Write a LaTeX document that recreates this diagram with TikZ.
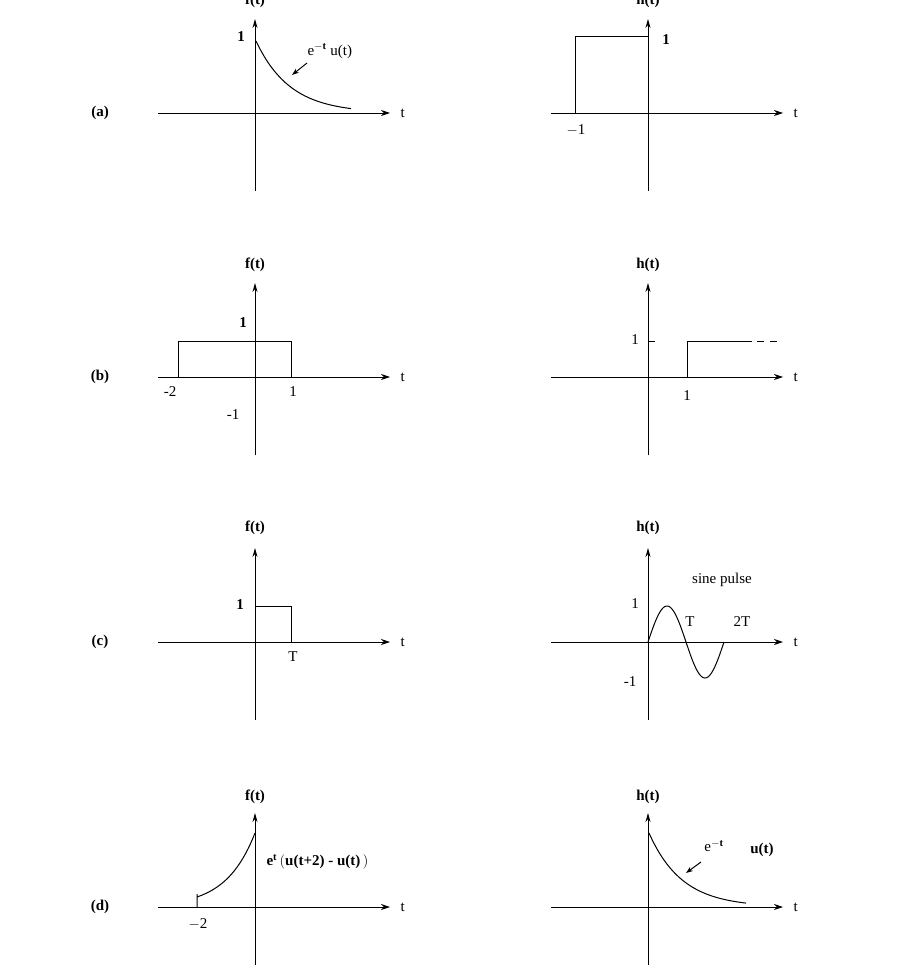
\documentclass[tikz,border=0pt]{standalone}
\usepackage{fontspec}
\setmainfont{Liberation Serif}
\usetikzlibrary{arrows.meta}
\begin{document}
\begin{tikzpicture}[x=1pt,y=-1pt,
  ax/.style={line width=0.9pt,-{Stealth[length=9pt,width=6pt]}},
  vax/.style={line width=0.9pt,-{Stealth[length=9pt,width=5pt]}},
  sig/.style={line width=1pt},
  lbl/.style={font=\fontsize{15}{16}\selectfont},
  small/.style={-{Stealth[length=7pt,width=5pt]},line width=1pt}]
\useasboundingbox (0,0) rectangle (921,965);
\foreach \ox/\oy/\n in {255/113/a,648/113/b,255/377/c,648/377/d,255/642/e,648/642/f,255/907/g,648/907/h}{
  \coordinate (L\n) at (\ox-97,\oy);
  \coordinate (R\n) at (\ox+135,\oy);
  \coordinate (B\n) at (\ox,\oy+78);
  \coordinate (T\n) at (\ox,\oy-94);
  \draw[ax] (L\n) -- (R\n);
  \draw[vax] (B\n) -- (T\n);
  \node[lbl,anchor=west] (t\n) at (\ox+142,\oy) {t};
}
\node[lbl,font=\bfseries\fontsize{15}{16}\selectfont] (ra) at (100,113) {(a)};
\node[lbl,font=\bfseries\fontsize{15}{16}\selectfont] (rb) at (100,377) {(b)};
\node[lbl,font=\bfseries\fontsize{15}{16}\selectfont] (rc) at (100,642) {(c)};
\node[lbl,font=\bfseries\fontsize{15}{16}\selectfont] (rd) at (100,907) {(d)};
\node[lbl] (fa) at (255,1) {\bfseries f(t)};
\node[lbl] (ha) at (648,1) {\bfseries h(t)};
\node[lbl] (fb) at (255,265) {\bfseries f(t)};
\node[lbl] (hb) at (648,265) {\bfseries h(t)};
\node[lbl] (fc) at (255,528) {\bfseries f(t)};
\node[lbl] (hc) at (648,528) {\bfseries h(t)};
\node[lbl] (fd) at (255,797) {\bfseries f(t)};
\node[lbl] (hd) at (648,797) {\bfseries h(t)};
% (a) left
\draw[sig] plot[domain=0:95,samples=60] ({256+\x},{113-72*exp(-\x/34)});
\node[lbl] (a1) at (241,37) {\bfseries 1};
\node[lbl,anchor=west] (aexp) at (304,51) {e$^{\mathbf{-t}}$ u(t)};
\coordinate (aa1) at (307,63); \coordinate (aa2) at (292,75);
\draw[small] (aa1) -- (aa2);
% (a) right
\draw[sig] (575,113) -- (575,37) -- (648,37);
\node[lbl] (b1) at (666,40) {\bfseries 1};
\node[lbl] (bm1) at (576,130) {$-$1};
% (b) left
\draw[sig] (178,377) -- (178,341) -- (291,341) -- (291,377);
\node[lbl] (c1) at (243,323) {\bfseries 1};
\node[lbl] (cm2) at (170,392) {-2};
\node[lbl] (cp1) at (293,392) {1};
\node[lbl] (cm1) at (233,415) {-1};
% (b) right
\draw[line width=0.9pt] (648,341) -- (655,341);
\node[lbl] (d1) at (635,340) {1};
\draw[sig] (687,377) -- (687,341) -- (752,341);
\draw[sig,dash pattern=on 7pt off 6pt] (757,341) -- (780,341);
\node[lbl] (dp1) at (687,396) {1};
% (c) left
\draw[sig] (255,606) -- (291,606) -- (291,642);
\node[lbl] (e1) at (240,605) {\bfseries 1};
\node[lbl] (eT) at (293,657) {T};
% (c) right
\draw[sig] plot[domain=0:76,samples=80] ({648+\x},{642-36*sin(\x*4.7368)});
\node[lbl] (f1) at (635,604) {1};
\node[lbl] (fm1) at (630,682) {-1};
\node[lbl] (fT) at (690,622) {T};
\node[lbl] (f2T) at (742,622) {2T};
\node[lbl] (fsp) at (722,580) {sine pulse};
% (d) left
\draw[sig] (197,907) -- (197,894) plot[domain=-58:0,samples=60] ({255+\x},{907-74*exp(\x/29)});
\node[lbl] (gm2) at (198,924) {$-$2};
\node[lbl,anchor=west] (gexp) at (263,862) {\bfseries e$^{\mathbf{t}}$\,$\Big($u(t+2) - u(t)\,$\Big)$};
% (d) right
\draw[sig] plot[domain=0:97,samples=60] ({649+\x},{907-74*exp(-\x/33)});
\node[lbl] (hexp) at (714,846) {e$^{\mathbf{-t}}$};
\node[lbl] (hu) at (762,850) {\bfseries u(t)};
\coordinate (ha1) at (701,862); \coordinate (ha2) at (686,873);
\draw[small] (ha1) -- (ha2);
\end{tikzpicture}
\end{document}
